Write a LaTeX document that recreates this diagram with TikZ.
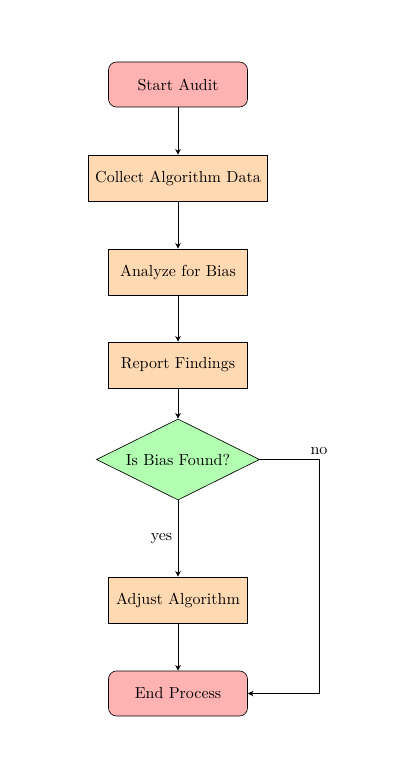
\documentclass[tikz,border=0pt]{standalone}
\usetikzlibrary{shapes.geometric,arrows.meta}
\begin{document}
\begin{tikzpicture}[x=0.625pt,y=-0.625pt,
  startstop/.style={rectangle,rounded corners=5pt,draw,fill=red!30,minimum width=139*0.625pt,minimum height=45*0.625pt,inner sep=0pt},
  process/.style={rectangle,draw,fill=orange!30,minimum width=139*0.625pt,minimum height=46*0.625pt,inner xsep=4pt,inner ysep=0pt},
  decision/.style={diamond,aspect=2,draw,fill=green!30,minimum width=163*0.625pt,minimum height=81*0.625pt,inner sep=0pt},
  arr/.style={semithick,-{Stealth[length=3.5pt,width=3.5pt,inset=1pt]}},
  lbl/.style={font=\normalsize}]
\useasboundingbox (0,0) rectangle (404,763);
\node[startstop] (start) at (178,84.5) {Start Audit};
\node[process] (collect) at (178,178) {Collect Algorithm Data};
\node[process] (analyze) at (178,272) {Analyze for Bias};
\node[process] (report) at (178,365) {Report Findings};
\node[decision] (dec) at (178,459.5) {Is Bias Found?};
\node[process] (adjust) at (178,600) {Adjust Algorithm};
\node[startstop] (finish) at (178,693.5) {End Process};
\coordinate (c1) at (319,459.5);
\coordinate (c2) at (319,693.5);
\draw[arr] (start) -- (collect);
\draw[arr] (collect) -- (analyze);
\draw[arr] (analyze) -- (report);
\draw[arr] (report) -- (dec);
\draw[arr] (dec) -- node[left,lbl,pos=0.5] {yes} (adjust);
\draw[arr] (adjust) -- (finish);
\draw[arr] (dec.east) -- (c1) node[above,lbl,inner sep=2pt,yshift=1pt] {no} -- (c2) -- (finish.east);
\end{tikzpicture}
\end{document}
